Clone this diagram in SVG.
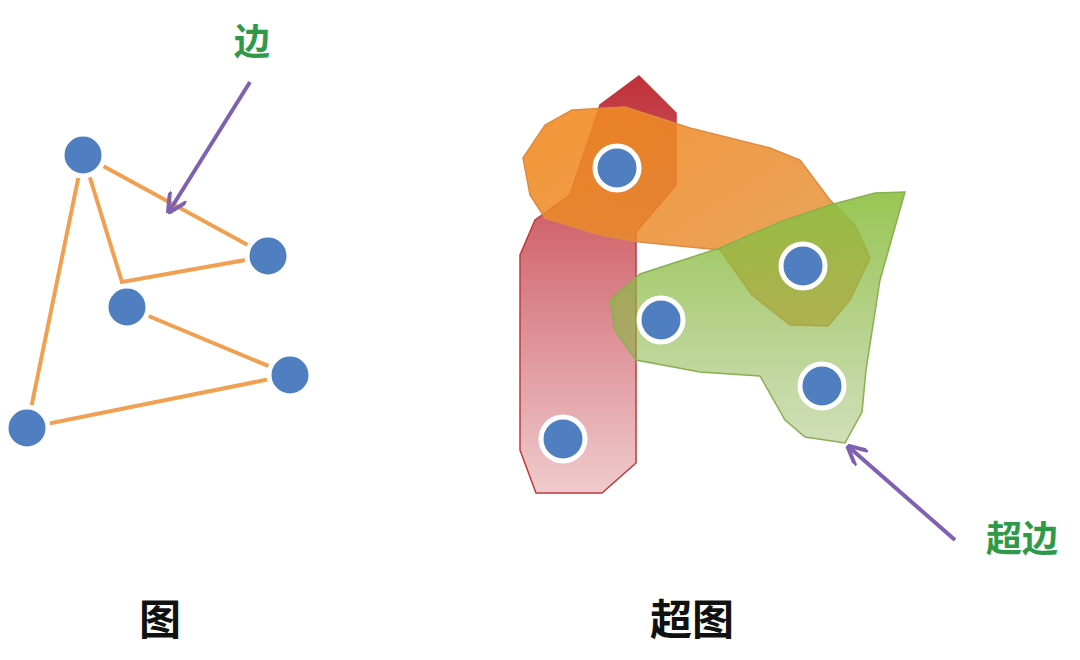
<svg xmlns="http://www.w3.org/2000/svg" width="1080" height="660" viewBox="0 0 1080 660">
<style>
.n{fill:#4f7fc0;stroke:#fff;stroke-width:5}
.e{stroke:#f0a050;stroke-width:4;fill:none;stroke-linecap:round}
.a{stroke:#8060b0;stroke-width:4;fill:none}
.g{fill:#2e9a48;font-family:"Noto Sans CJK SC",sans-serif;font-weight:bold;font-size:36px}
.k{fill:#111;font-family:"Noto Sans CJK SC",sans-serif;font-weight:bold;font-size:42px}
</style>
<defs>
<marker id="ah" viewBox="0 0 10 10" refX="8" refY="5" markerWidth="5" markerHeight="5" orient="auto"><path d="M0,0 L10,5 L0,10" fill="none" stroke="#8060b0" stroke-width="2"/></marker>
<linearGradient id="rg" x1="0" y1="0" x2="0" y2="1"><stop offset="0" stop-color="#c0303a"/><stop offset="1" stop-color="#c0303a" stop-opacity="0.25"/></linearGradient>
<linearGradient id="og" x1="0" y1="0" x2="1" y2="1"><stop offset="0" stop-color="#f28a20" stop-opacity="0.9"/><stop offset="1" stop-color="#e08a30" stop-opacity="0.75"/></linearGradient>
<linearGradient id="gg" x1="0" y1="0" x2="0" y2="1"><stop offset="0" stop-color="#8cc040" stop-opacity="0.9"/><stop offset="1" stop-color="#8cb050" stop-opacity="0.4"/></linearGradient>
</defs>
<g id="connectors">
<path class="e" d="M83,155 L268,256 M83,155 L122,282 L268,256 M127,307 L290,375 L27,428 L83,155"/>
<path class="a" d="M250,82 L170,210" marker-end="url(#ah)"/>
<path class="a" d="M955,540 L850,448" marker-end="url(#ah)"/>
</g>
<g id="hyperedges">
<path d="M639,76 L676,113 L676,185 L636,232 L636,463 L602,493 L536,493 L520,450 L520,255 L535,220 L570,195 L600,105 Z" fill="url(#rg)" stroke="#c03a3a" stroke-width="1.5"/>
<path d="M523,158 L545,125 L572,110 L625,107 L690,128 L770,148 L800,160 L830,200 L855,225 L870,258 L850,300 L828,326 L790,325 L752,295 L720,250 L640,242 L600,235 L545,218 L530,195 Z" fill="url(#og)" stroke="#e08a40" stroke-width="1.5"/>
<path d="M610,300 L615,330 L636,360 L700,372 L760,376 L785,420 L805,437 L845,443 L862,412 L866,370 L880,280 L905,192 L875,193 L830,205 L780,222 L720,248 L640,274 Z" fill="url(#gg)" stroke="#88b050" stroke-width="1.5"/>
</g>
<g id="nodes">
<circle id="a1" class="n" cx="83" cy="155" r="21"/>
<circle id="a2" class="n" cx="268" cy="256" r="21"/>
<circle id="a3" class="n" cx="127" cy="307" r="21"/>
<circle id="a4" class="n" cx="290" cy="375" r="21"/>
<circle id="a5" class="n" cx="27" cy="428" r="21"/>
<circle id="b1" class="n" cx="617" cy="168" r="22"/>
<circle id="b2" class="n" cx="803" cy="266" r="22"/>
<circle id="b3" class="n" cx="661" cy="320" r="22"/>
<circle id="b4" class="n" cx="822" cy="386" r="22"/>
<circle id="b5" class="n" cx="563" cy="439" r="22"/>
</g>
<g id="labels">
<text class="g" x="252" y="55" text-anchor="middle">边</text>
<text class="g" x="1022" y="552" text-anchor="middle">超边</text>
<text class="k" x="160" y="635" text-anchor="middle">图</text>
<text class="k" x="692" y="635" text-anchor="middle">超图</text>
</g>
</svg>
